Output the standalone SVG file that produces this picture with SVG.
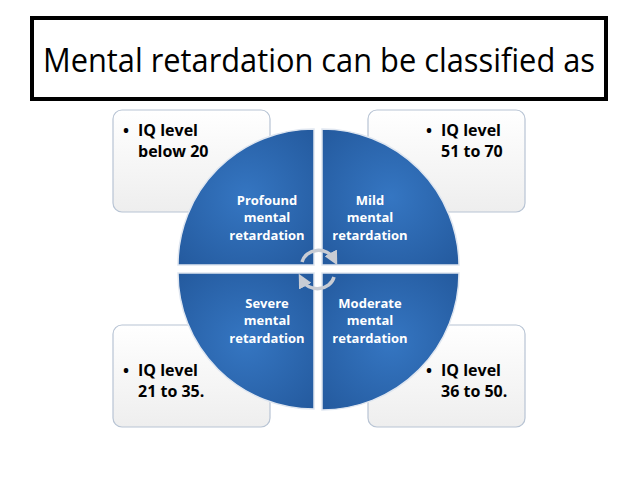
<svg xmlns="http://www.w3.org/2000/svg" width="638" height="478" viewBox="0 0 638 478">
<defs>
<linearGradient id="box" x1="0" y1="0" x2="0" y2="1"><stop offset="0" stop-color="#ffffff"/><stop offset="1" stop-color="#eeeeee"/></linearGradient>
<radialGradient id="blue" cx="0.5" cy="0.5" r="0.7"><stop offset="0" stop-color="#3576c2"/><stop offset="1" stop-color="#245a9e"/></radialGradient>
<marker id="ah" markerWidth="4" markerHeight="4" refX="2" refY="2" orient="auto"><path d="M0,0 L4,2 L0,4 z" fill="#c8ccd4"/></marker>
</defs>
<style>
.b{fill:url(#box);stroke:#b8c4d4;stroke-width:1.2}
.bt{font-family:"Open Sans","Liberation Sans",sans-serif;font-weight:bold;font-size:16px;fill:#000}
.q{fill:url(#blue);stroke:#dfe6f0;stroke-width:1.5}
.qt{font-family:"Open Sans","Liberation Sans",sans-serif;font-weight:bold;font-size:13px;fill:#fff;text-anchor:middle}
.arc{fill:none;stroke:#c8ccd4;stroke-width:3.5}
</style>
<rect width="638" height="478" fill="#fff"/>
<g id="title">
<rect x="32" y="18" width="574" height="81" fill="#fff" stroke="#000" stroke-width="4"/>
<text x="319" y="72" font-family="Open Sans, Liberation Sans, sans-serif" font-size="33" text-anchor="middle" textLength="552" lengthAdjust="spacingAndGlyphs">Mental retardation can be classified as</text>
</g>
<g id="box-tl"><rect class="b" x="113" y="110" width="157" height="102" rx="9"/><text class="bt" x="123" y="136">•</text><text class="bt" x="138" y="136">IQ level</text><text class="bt" x="138" y="157">below 20</text></g>
<g id="box-tr"><rect class="b" x="368" y="110" width="157" height="102" rx="9"/><text class="bt" x="426" y="136">•</text><text class="bt" x="441" y="136">IQ level</text><text class="bt" x="441" y="157">51 to 70</text></g>
<g id="box-bl"><rect class="b" x="113" y="325" width="157" height="102" rx="9"/><text class="bt" x="123" y="376">•</text><text class="bt" x="138" y="376">IQ level</text><text class="bt" x="138" y="397">21 to 35.</text></g>
<g id="box-br"><rect class="b" x="368" y="325" width="157" height="102" rx="9"/><text class="bt" x="426" y="376">•</text><text class="bt" x="441" y="376">IQ level</text><text class="bt" x="441" y="397">36 to 50.</text></g>
<g id="q-profound"><path class="q" d="M314,265 L178,265 A136,136 0 0 1 314,129 Z"/><text class="qt" x="267" y="205">Profound</text><text class="qt" x="267" y="222">mental</text><text class="qt" x="267" y="240">retardation</text></g>
<g id="q-mild"><path class="q" d="M322,265 L322,129 A137,137 0 0 1 459,265 Z"/><text class="qt" x="370" y="205">Mild</text><text class="qt" x="370" y="222">mental</text><text class="qt" x="370" y="240">retardation</text></g>
<g id="q-severe"><path class="q" d="M314,273 L314,409 A136,136 0 0 1 178,273 Z"/><text class="qt" x="267" y="308">Severe</text><text class="qt" x="267" y="325">mental</text><text class="qt" x="267" y="343">retardation</text></g>
<g id="q-moderate"><path class="q" d="M322,273 L459,273 A137,137 0 0 1 322,410 Z"/><text class="qt" x="370" y="308">Moderate</text><text class="qt" x="370" y="325">mental</text><text class="qt" x="370" y="343">retardation</text></g>
<g id="connectors">
<path class="arc" d="M302,262 A17,15 0 0 1 334,259" marker-end="url(#ah)"/>
<path class="arc" d="M334,277 A17,15 0 0 1 302,280" marker-end="url(#ah)"/>
</g>
</svg>
